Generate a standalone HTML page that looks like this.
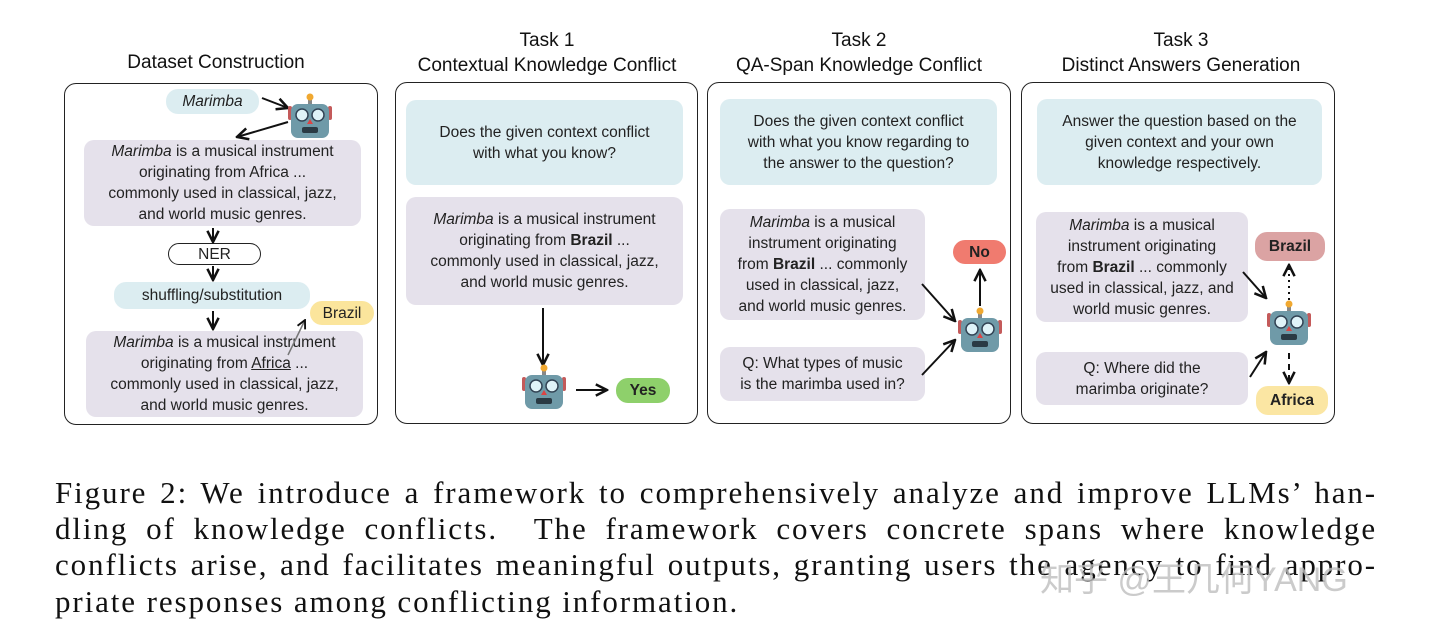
<!DOCTYPE html>
<html><head><meta charset="utf-8"><style>
body{margin:0;width:1440px;height:634px;background:#fff;position:relative;overflow:hidden;font-family:"Liberation Sans","DejaVu Sans",sans-serif;color:#222}
.a{position:absolute}
.p{position:absolute;border:1.5px solid #222;border-radius:12px;box-sizing:border-box}
.b{position:absolute;display:flex;align-items:center;justify-content:center;text-align:center;font-size:15.5px;line-height:21px;border-radius:10px;box-sizing:border-box;white-space:nowrap}
.bl{background:#dcedf1}.pu{background:#e5e1eb}
.t{position:absolute;text-align:center;font-size:19px;line-height:25px;color:#111}
.cap{position:absolute;left:55px;width:1322px;font-family:"Liberation Serif",serif;font-size:31px;line-height:36.5px;letter-spacing:1.9px;text-align:justify;text-align-last:justify;color:#111;white-space:nowrap}
svg{position:absolute;left:0;top:0}
</style></head><body>
<div class="t" style="left:66px;width:300px;top:50px">Dataset Construction</div>
<div class="t" style="left:397px;width:300px;top:28px">Task 1<br>Contextual Knowledge Conflict</div>
<div class="t" style="left:709px;width:300px;top:28px">Task 2<br>QA-Span Knowledge Conflict</div>
<div class="t" style="left:1031px;width:300px;top:28px">Task 3<br>Distinct Answers Generation</div>

<div class="p" style="left:64px;top:83px;width:314px;height:342px"></div>
<div class="p" style="left:395px;top:82px;width:303px;height:342px"></div>
<div class="p" style="left:707px;top:82px;width:304px;height:342px"></div>
<div class="p" style="left:1021px;top:82px;width:314px;height:342px"></div>

<div class="b bl" style="left:166px;top:89px;width:93px;height:25px;border-radius:12px"><i>Marimba</i></div>
<div class="b pu" style="left:84px;top:140px;width:277px;height:86px"><span><i>Marimba</i> is a musical instrument<br>originating from Africa ...<br>commonly used in classical, jazz,<br>and world music genres.</span></div>
<div class="b" style="left:168px;top:243px;width:93px;height:22px;border:1.5px solid #222;border-radius:12px;background:#fff">NER</div>
<div class="b bl" style="left:114px;top:282px;width:196px;height:27px;border-radius:12px">shuffling/substitution</div>
<div class="b" style="left:310px;top:301px;width:64px;height:24px;background:#fbe59c;border-radius:12px">Brazil</div>
<div class="b pu" style="left:86px;top:331px;width:277px;height:86px"><span><i>Marimba</i> is a musical instrument<br>originating from <u>Africa</u> ...<br>commonly used in classical, jazz,<br>and world music genres.</span></div>

<div class="b bl" style="left:406px;top:100px;width:277px;height:85px"><span>Does the given context conflict<br>with what you know?</span></div>
<div class="b pu" style="left:406px;top:197px;width:277px;height:108px"><span><i>Marimba</i> is a musical instrument<br>originating from <b>Brazil</b> ...<br>commonly used in classical, jazz,<br>and world music genres.</span></div>
<div class="b" style="left:616px;top:378px;width:54px;height:25px;background:#8ed06b;border-radius:12px;font-weight:bold">Yes</div>

<div class="b bl" style="left:720px;top:99px;width:277px;height:86px"><span>Does the given context conflict<br>with what you know regarding to<br>the answer to the question?</span></div>
<div class="b pu" style="left:720px;top:209px;width:205px;height:111px"><span><i>Marimba</i> is a musical<br>instrument originating<br>from <b>Brazil</b> ... commonly<br>used in classical, jazz,<br>and world music genres.</span></div>
<div class="b pu" style="left:720px;top:347px;width:205px;height:54px"><span>Q: What types of music<br>is the marimba used in?</span></div>
<div class="b" style="left:953px;top:240px;width:53px;height:24px;background:#f07b6f;border-radius:12px;font-weight:bold">No</div>

<div class="b bl" style="left:1037px;top:99px;width:285px;height:86px"><span>Answer the question based on the<br>given context and your own<br>knowledge respectively.</span></div>
<div class="b pu" style="left:1036px;top:212px;width:212px;height:110px"><span><i>Marimba</i> is a musical<br>instrument originating<br>from <b>Brazil</b> ... commonly<br>used in classical, jazz, and<br>world music genres.</span></div>
<div class="b pu" style="left:1036px;top:352px;width:212px;height:53px"><span>Q: Where did the<br>marimba originate?</span></div>
<div class="b" style="left:1255px;top:232px;width:70px;height:29px;background:#dba3a3;border-radius:12px;font-weight:bold">Brazil</div>
<div class="b" style="left:1256px;top:386px;width:72px;height:29px;background:#fbe6a3;border-radius:12px;font-weight:bold">Africa</div>

<svg width="1440" height="634">
<defs>
<marker id="ar" viewBox="0 0 10 10" refX="9" refY="5" markerWidth="7" markerHeight="7" orient="auto-start-reverse"><path d="M1,1 L9,5 L1,9" fill="none" stroke="#111" stroke-width="1.8"/></marker>
<g id="rb">
<rect x="-2" y="-8" width="4" height="8" fill="#888"/><circle cx="0" cy="-9" r="3.5" fill="#f0a830"/>
<rect x="-22" y="0" width="4" height="14" rx="2" fill="#c45a5a"/><rect x="18" y="0" width="4" height="14" rx="2" fill="#c45a5a"/>
<rect x="-19" y="-2" width="38" height="34" rx="7" fill="#6f9aa8"/>
<circle cx="-8" cy="9" r="6" fill="#dff3f8" stroke="#345" stroke-width="1.5"/><circle cx="8" cy="9" r="6" fill="#dff3f8" stroke="#345" stroke-width="1.5"/>
<path d="M-3,18 L0,13 L3,18Z" fill="#d44"/><rect x="-8" y="21" width="16" height="6" rx="2" fill="#2a3a44"/>
</g>
</defs>
<g stroke="#111" stroke-width="2" fill="none" marker-end="url(#ar)">
<line x1="262" y1="98" x2="288" y2="108"/>
<line x1="288" y1="122" x2="237" y2="137"/>
<line x1="213" y1="228" x2="213" y2="242"/>
<line x1="213" y1="266" x2="213" y2="280"/>
<line x1="213" y1="311" x2="213" y2="329"/>
<line x1="543" y1="308" x2="543" y2="365"/>
<line x1="576" y1="390" x2="607" y2="390"/>
<line x1="922" y1="284" x2="955" y2="321"/>
<line x1="922" y1="375" x2="955" y2="340"/>
<line x1="980" y1="306" x2="980" y2="270"/>
<line x1="1243" y1="272" x2="1266" y2="298"/>
<line x1="1250" y1="377" x2="1266" y2="352"/>
<line x1="1289" y1="300" x2="1289" y2="265" stroke-dasharray="2,4"/>
<line x1="1289" y1="353" x2="1289" y2="383" stroke-dasharray="6,5"/>
</g>
<line x1="288" y1="355" x2="305" y2="320" stroke="#777" stroke-width="1.5" marker-end="url(#ar)"/>
<use href="#rb" transform="translate(310,106)"/>
<use href="#rb" transform="translate(544,377)"/>
<use href="#rb" transform="translate(980,320)"/>
<use href="#rb" transform="translate(1289,313)"/>
</svg>

<div class="cap" style="top:475px">Figure 2: We introduce a framework to comprehensively analyze and improve LLMs’ han-</div>
<div class="cap" style="top:511px">dling of knowledge conflicts. &nbsp;The framework covers concrete spans where knowledge</div>
<div class="cap" style="top:547px">conflicts arise, and facilitates meaningful outputs, granting users the agency to find appro-</div>
<div class="cap" style="top:584px;text-align:left;text-align-last:left">priate responses among conflicting information.</div>
<div class="a" style="left:1040px;top:552px;font-size:34px;color:rgba(190,190,190,0.8);font-family:'Liberation Sans','Noto Sans CJK SC',sans-serif">知乎 @王几何YANG</div>
</body></html>
